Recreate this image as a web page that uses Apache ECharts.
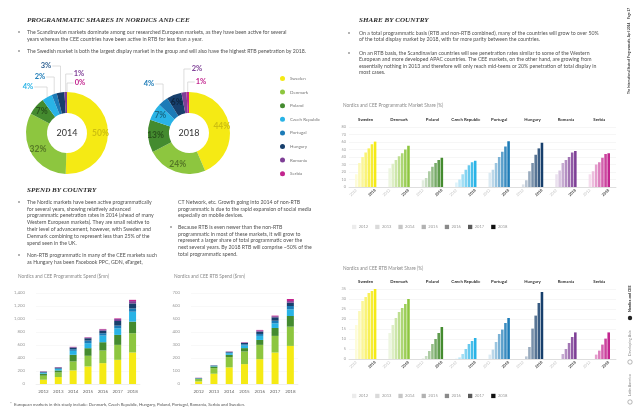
<!DOCTYPE html>
<html><head><meta charset="utf-8">
<script src="https://cdn.jsdelivr.net/npm/echarts@6/dist/echarts.min.js"></script>
<style>html,body{margin:0;padding:0;background:#fff}#c{width:638px;height:410px}</style>
</head><body><div id="c"></div>
<script>
// ---------- data ----------
const countries = ['Sweden','Denmark','Poland','Czech Republic','Portugal','Hungary','Romania','Serbia'];
const countryColors = ['#f5ea14','#8dc63f','#448b2f','#29b3e6','#1c7bb7','#173f6c','#7e3f96','#c2248e'];
const years = ['2012','2013','2014','2015','2016','2017','2018'];
const yearGreys = ['#ececec','#dadada','#c6c6c6','#b2b2b2','#8a8a8a','#5a5a5a','#111111'];
const yearTint = [0.16,0.3,0.44,0.58,0.72,0.86,1];

// donut shares (%)
const share2014 = [50,32,7,4,2,3,1,0];
const share2018 = [44,24,13,7,4,6,2,1];

// Programmatic spend ($mn), 2012..2018
const progSpend_Sweden   = [66,107,209,270,321,372,485];
const progSpend_Denmark  = [62,71,138,164,194,230,296];
const progSpend_Poland   = [30,31,102,117,128,153,178];
const progSpend_Czech    = [12,21,61,77,102,102,153];
const progSpend_Portugal = [8,10,25,40,36,41,51];
const progSpend_Hungary  = [10,12,25,36,40,71,77];
const progSpend_Romania  = [4,5,8,10,18,30,35];
const progSpend_Serbia   = [2,3,4,5,8,10,20];

// RTB spend ($mn), 2012..2018
const rtbSpend_Sweden   = [20,79,128,153,191,242,293];
const rtbSpend_Denmark  = [18,43,79,97,110,128,148];
const rtbSpend_Poland   = [3,13,17,26,38,61,82];
const rtbSpend_Czech    = [2,4,13,20,31,36,51];
const rtbSpend_Portugal = [1,2,5,10,15,20,26];
const rtbSpend_Hungary  = [2,2,5,10,18,26,25];
const rtbSpend_Romania  = [1,1,2,3,8,8,13];
const rtbSpend_Serbia   = [1,0,1,2,5,5,16];

// Programmatic market share (%), 2012..2018
const progShare_Sweden   = [17,32,40,46,51.5,57,60.5];
const progShare_Denmark  = [25,31,36,41,45,50,55];
const progShare_Poland   = [9,12,21,27,32,36,39];
const progShare_Czech    = [6,10,17,23,29,33,35];
const progShare_Portugal = [19,23,32,40,47,54,61];
const progShare_Hungary  = [3.5,9,21,32,43,51.5,59];
const progShare_Romania  = [17,22,32,36,40,46,48];
const progShare_Serbia   = [17,21,30,33,39,44,45];

// RTB market share (%), 2012..2018
const rtbShare_Sweden   = [17,24,29,31,33,34,35];
const rtbShare_Denmark  = [13,17,20.5,23.5,25.5,27.5,30];
const rtbShare_Poland   = [0.3,1.5,4,7.5,10,13,16];
const rtbShare_Czech    = [0.2,0.8,2.5,5,7.5,9,10.5];
const rtbShare_Portugal = [2.2,4.7,8.5,12.5,14.7,18,20.5];
const rtbShare_Hungary  = [0,1.3,6,15.2,21.7,28,33.5];
const rtbShare_Romania  = [0,0,2.5,5,8,11,13.3];
const rtbShare_Serbia   = [0,0,2.2,4.2,7.2,10.2,13.3];

const progSpend = [progSpend_Sweden,progSpend_Denmark,progSpend_Poland,progSpend_Czech,progSpend_Portugal,progSpend_Hungary,progSpend_Romania,progSpend_Serbia];
const rtbSpend = [rtbSpend_Sweden,rtbSpend_Denmark,rtbSpend_Poland,rtbSpend_Czech,rtbSpend_Portugal,rtbSpend_Hungary,rtbSpend_Romania,rtbSpend_Serbia];
const progShare = [progShare_Sweden,progShare_Denmark,progShare_Poland,progShare_Czech,progShare_Portugal,progShare_Hungary,progShare_Romania,progShare_Serbia];
const rtbShare = [rtbShare_Sweden,rtbShare_Denmark,rtbShare_Poland,rtbShare_Czech,rtbShare_Portugal,rtbShare_Hungary,rtbShare_Romania,rtbShare_Serbia];

// ---------- helpers ----------
function mix(hex, t, base) {
  const b = base === undefined ? 255 : base;
  const r = parseInt(hex.slice(1,3),16), g = parseInt(hex.slice(3,5),16), bl = parseInt(hex.slice(5,7),16);
  const f = v => Math.round(v*t + b*(1-t));
  return 'rgb(' + f(r) + ',' + f(g) + ',' + f(bl) + ')';
}
const BODY = 'Lato, "Open Sans", sans-serif';
const SERIF = '"Liberation Serif", "DejaVu Serif", serif';
const bodyColor = '#505050';

function para(x, y, lines, opt) {
  const lh = (opt && opt.lh) || 6.9;
  return { type:'text', x:x, y:y - lh/2, silent:true,
    style: Object.assign({ text: lines.join('\n'), fill: bodyColor, fontSize: 5.2, fontFamily: BODY,
      lineHeight: lh, verticalAlign:'top', align:'left' }, opt && opt.style) };
}
function bullet(x, y) {
  return { type:'circle', silent:true, shape:{cx:x, cy:y, r:0.8}, style:{fill:'#555'} };
}
function title(x, y, t) {
  return { type:'text', x:x, y:y, silent:true, style:{ text:t, fill:'#2b2b2b', fontSize:7.1, fontFamily:SERIF,
    fontWeight:'bold', fontStyle:'italic', verticalAlign:'middle' } };
}
function small(x, y, t, opt) {
  return { type:'text', x:x, y:y, silent:true, style:Object.assign({ text:t, fill:'#8a8a8a', fontSize:4.7, fontFamily:BODY, verticalAlign:'middle' }, opt) };
}

// where the small outside donut labels sit, as offsets from the donut centre (label styling)
const outsideSpots2014 = { 3:[-39,-46], 4:[-27,-56], 5:[-21,-67], 6:[12,-59], 7:[13,-50] };
const outsideSpots2018 = { 4:[-40,-49], 6:[8,-64], 7:[12,-51] };

function pieData(vals) {
  return countries.map((c, i) => {
    const inside = vals[i] >= 5;
    return {
      name: c, value: vals[i],
      itemStyle: { color: countryColors[i] },
      label: inside
        ? { position:'inside', color: i === 0 ? '#cdbf10' : mix(countryColors[i], 0.6, 0), fontSize: 8.5 }
        : { position:'outside', color: i === 5 ? '#2d5f91' : countryColors[i], fontSize: 7.5 },
      labelLine: { show: !inside, length: 9, length2: 5, lineStyle:{ color:'#c8c8c8', width:0.6 } }
    };
  });
}
function pieSeries(center, vals, spots) {
  return {
    type:'pie', center: center, radius:[20,41], startAngle:90, clockwise:true,
    avoidLabelOverlap:false, silent:true,
    label:{ show:true, formatter:'{c}%', fontFamily: BODY, fontWeight:'bold' },
    emphasis:{ disabled:true },
    labelLayout: function (p) {
      const s = spots[p.dataIndex];
      if (!s || !p.labelLinePoints) return {};
      const lx = center[0] + s[0], ly = center[1] + s[1];
      const p0 = p.labelLinePoints[0];
      const w = p.labelRect.width;
      const right = lx > p0[0];
      const endX = right ? lx - w/2 - 1 : lx + w/2 + 1;
      return { x: lx, y: ly, align:'center', verticalAlign:'middle',
        labelLinePoints: [[p0[0], p0[1]], [p0[0], ly], [endX, ly]] };
    },
    data: pieData(vals)
  };
}

// ---------- series ----------
const series = [ pieSeries([67,133], share2014, outsideSpots2014), pieSeries([189,133], share2018, outsideSpots2018) ];

countries.forEach((c, i) => {
  series.push({ type:'bar', name:c, stack:'prog', xAxisIndex:0, yAxisIndex:0, barWidth:7,
    itemStyle:{ color: countryColors[i] }, data: progSpend[i] });
});
countries.forEach((c, i) => {
  series.push({ type:'bar', name:c, stack:'rtb', xAxisIndex:1, yAxisIndex:1, barWidth:7,
    itemStyle:{ color: countryColors[i] }, data: rtbSpend[i] });
});

function shareSeries(table, xi, yi) {
  years.forEach((y, j) => {
    const edge = (j === 0 || j === years.length - 1);
    series.push({
      type:'bar', name:y, xAxisIndex:xi, yAxisIndex:yi,
      barGap:'22%', barCategoryGap:'36%',
      itemStyle:{ color: yearGreys[j] },
      label: edge ? { show:true, position:'bottom', distance:2.5, rotate:45, align:'right', verticalAlign:'middle',
        formatter: y, fontSize:3.8, fontFamily: BODY,
        color: j === 0 ? '#c4c4c4' : '#444', fontWeight: j === 0 ? 'normal' : 'bold' } : { show:false },
      data: countries.map((c, i) => ({ value: table[i][j], itemStyle:{ color: mix(countryColors[i], yearTint[j]) } }))
    });
  });
}
shareSeries(progShare, 2, 2);
shareSeries(rtbShare, 4, 3);

// ---------- texts ----------
const graphic = [
  title(27, 20, 'PROGRAMMATIC SHARES IN NORDICS AND CEE'),
  bullet(19, 32), bullet(19, 51),
  para(27, 32, ['The Scandinavian markets dominate among our researched European markets, as they have been active for several',
                'years whereas the CEE countries have been active in RTB for less than a year.']),
  para(27, 51, ['The Swedish market is both the largest display market in the group and will also have the highest RTB penetration by 2018.']),

  { type:'text', x:67, y:133, silent:true, style:{ text:'2014', fill:'#333', fontSize:9, fontFamily:BODY, align:'center', verticalAlign:'middle' } },
  { type:'text', x:189, y:133, silent:true, style:{ text:'2018', fill:'#333', fontSize:9, fontFamily:BODY, align:'center', verticalAlign:'middle' } },

  title(27, 190, 'SPEND BY COUNTRY'),
  bullet(19, 202), bullet(19, 255),
  para(27, 202, ['The Nordic markets have been active programmatically','for several years, showing relatively advanced',
    'programmatic penetration rates in 2014 (ahead of many','Western European markets). They are small relative to',
    'their level of advancement, however, with Sweden and','Denmark combining to represent less than 25% of the','spend seen in the UK.']),
  para(27, 255, ['Non-RTB programmatic in many of the CEE markets such','as Hungary has been Facebook PPC, GDN, eTarget,']),
  bullet(171, 227),
  para(178, 202, ['CT Network, etc. Growth going into 2014 of non-RTB','programmatic is due to the rapid expansion of social media','especially on mobile devices.']),
  para(178, 227, ['Because RTB is even newer than the non-RTB','programmatic in most of these markets, it will grow to',
    'represent a larger share of total programmatic over the','next several years. By 2018 RTB will comprise ~50% of the','total programmatic spend.']),
  small(18, 276, 'Nordics and CEE Programmatic Spend ($mn)'),
  small(174, 276, 'Nordics and CEE RTB Spend ($mn)'),

  title(359, 20, 'SHARE BY COUNTRY'),
  bullet(349, 33), bullet(349, 53),
  para(359, 33, ['On a total programmatic basis (RTB and non-RTB combined), many of the countries will grow to over 50%',
                 'of the total display market by 2018, with far more parity between the countries.'], {lh:6.6}),
  para(359, 53, ['On an RTB basis, the Scandinavian countries will see penetration rates similar to some of the Western',
                 'European and more developed APAC countries. The CEE markets, on the other hand, are growing from',
                 'essentially nothing in 2013 and therefore will only reach mid-teens or 20% penetration of total display in',
                 'most cases.'], {lh:6.6}),
  small(343, 105, 'Nordics and CEE Programmatic Market Share (%)'),
  small(343, 268, 'Nordics and CEE RTB Market Share (%)'),

  { type:'text', x:12, y:404, silent:true, style:{ text:'*', fill:'#555', fontSize:4.5, fontFamily:BODY, verticalAlign:'middle', align:'right' } },
  small(14, 405, 'European markets in this study include: Denmark, Czech Republic, Hungary, Poland, Portugal, Romania, Serbia and Sweden.', {fill:'#555', fontSize:4.3}),

  // vertical side texts
  { type:'text', x:629, y:94, rotation:Math.PI/2, silent:true, style:{ text:'The International State of Programmatic, April 2014', fill:'#333', fontSize:3.1, fontFamily:BODY, fontWeight:'bold', verticalAlign:'middle', align:'left' } },
  { type:'text', x:629, y:19, rotation:Math.PI/2, silent:true, style:{ text:'Page 17', fill:'#333', fontSize:3.1, fontFamily:BODY, fontWeight:'bold', verticalAlign:'middle', align:'left' } },
  { type:'circle', silent:true, shape:{cx:630, cy:318, r:2.2}, style:{ fill:'#222' } },
  { type:'text', x:630, y:312, rotation:Math.PI/2, silent:true, style:{ text:'Nordics and CEE', fill:'#222', fontSize:3.6, fontFamily:BODY, fontWeight:'bold', verticalAlign:'middle', align:'left' } },
  { type:'circle', silent:true, shape:{cx:630, cy:362, r:2.2}, style:{ fill:'#fff', stroke:'#888', lineWidth:0.6 } },
  { type:'text', x:630, y:356, rotation:Math.PI/2, silent:true, style:{ text:'Developing Asia', fill:'#888', fontSize:3.6, fontFamily:BODY, verticalAlign:'middle', align:'left' } },
  { type:'circle', silent:true, shape:{cx:630, cy:402, r:2.2}, style:{ fill:'#fff', stroke:'#888', lineWidth:0.6 } },
  { type:'text', x:630, y:396, rotation:Math.PI/2, silent:true, style:{ text:'Latin America', fill:'#888', fontSize:3.6, fontFamily:BODY, verticalAlign:'middle', align:'left' } }
];

// ---------- axes ----------
const axisFont = { fontFamily: BODY, color:'#999' };
const spendY = (max, interval) => ({
  type:'value', min:0, max:max, interval:interval,
  axisLine:{show:false}, axisTick:{show:false},
  splitLine:{ lineStyle:{ color:'#f1f1f1', width:0.5 } },
  axisLabel: Object.assign({ fontSize:4.3, margin:11, formatter: v => v.toLocaleString('en-US') }, axisFont)
});
const shareY = (max, interval, gi) => ({
  type:'value', gridIndex:gi, min:0, max:max, interval:interval,
  axisLine:{show:false}, axisTick:{show:false},
  splitLine:{ lineStyle:{ color:'#ececec', width:0.5 } },
  axisLabel: Object.assign({ fontSize:3.8, margin:3 }, axisFont)
});
const yearLegend = top => ({
  data:years, orient:'horizontal', left:347, top:top, icon:'rect', itemWidth:4.3, itemHeight:4.3, itemGap:7,
  selectedMode:false, textStyle:{ fontSize:4.1, color:'#999', fontFamily:BODY, padding:[0,0,0,-2.6] }
});

const option = {
  animation:false,
  backgroundColor:'#ffffff',
  textStyle:{ fontFamily: BODY },
  grid:[
    { left:36, top:293, width:104, height:91 },
    { left:191, top:293, width:107, height:91 },
    { left:349, top:127, width:267, height:60 },
    { left:349, top:289, width:267, height:70 }
  ],
  xAxis:[
    { type:'category', gridIndex:0, data:years, axisTick:{show:false}, axisLine:{ lineStyle:{ color:'#e6e6e6', width:0.5 } },
      axisLabel: Object.assign({ fontSize:4.5, margin:5 }, axisFont, {color:'#666'}) },
    { type:'category', gridIndex:1, data:years, axisTick:{show:false}, axisLine:{ lineStyle:{ color:'#e6e6e6', width:0.5 } },
      axisLabel: Object.assign({ fontSize:4.5, margin:5 }, axisFont, {color:'#666'}) },
    { type:'category', gridIndex:2, data:countries, axisTick:{show:false}, axisLabel:{show:false},
      axisLine:{ lineStyle:{ color:'#cfcfcf', width:0.6 } } },
    { type:'category', gridIndex:2, data:countries, position:'top', axisTick:{show:false}, axisLine:{show:false},
      axisLabel:{ fontSize:4.3, fontWeight:'bold', color:'#333', margin:5, fontFamily:BODY, interval:0 } },
    { type:'category', gridIndex:3, data:countries, axisTick:{show:false}, axisLabel:{show:false},
      axisLine:{ lineStyle:{ color:'#cfcfcf', width:0.6 } } },
    { type:'category', gridIndex:3, data:countries, position:'top', axisTick:{show:false}, axisLine:{show:false},
      axisLabel:{ fontSize:4.3, fontWeight:'bold', color:'#333', margin:5, fontFamily:BODY, interval:0 } }
  ],
  yAxis:[
    Object.assign(spendY(1400, 200), { gridIndex:0 }),
    Object.assign(spendY(700, 100), { gridIndex:1 }),
    shareY(80, 10, 2),
    shareY(35, 5, 3)
  ],
  legend:[
    { data:countries, orient:'vertical', left:275, top:71, icon:'circle', itemWidth:5, itemHeight:5, itemGap:8.6,
      selectedMode:false, textStyle:{ fontSize:4.5, color:'#777', fontFamily:BODY } },
    yearLegend(219.8),
    yearLegend(388.8)
  ],
  graphic: graphic,
  series: series
};

const chart = echarts.init(document.getElementById('c'), null, { renderer:'canvas' });
chart.setOption(option);
</script>
</body></html>
